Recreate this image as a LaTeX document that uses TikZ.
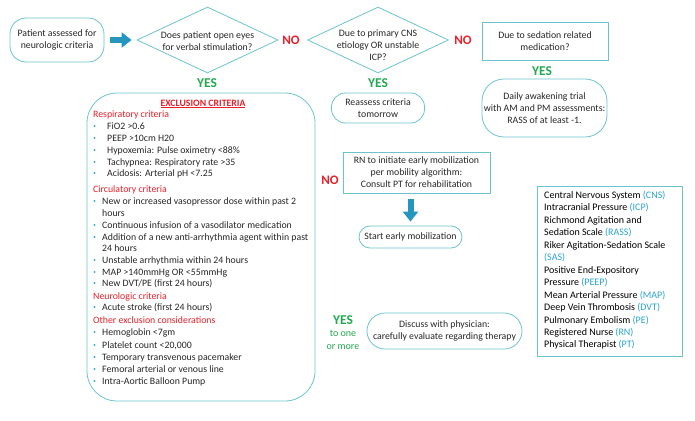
\documentclass[tikz,border=0pt]{standalone}
\usepackage{fontspec}
\setmainfont{Carlito}
\usetikzlibrary{shapes.geometric,arrows.meta}
\definecolor{bord}{HTML}{6CC3D0}
\definecolor{arr}{HTML}{2596BE}
\definecolor{nored}{HTML}{E8202A}
\definecolor{yesgreen}{HTML}{22A94F}
\definecolor{abbr}{HTML}{2AA5CE}
\definecolor{txt}{HTML}{262626}
\definecolor{bul}{HTML}{3AAED0}
\newcommand\ab[1]{\textcolor{abbr}{#1}}
\begin{document}
\begin{tikzpicture}[x=1pt,y=-1pt,
  font=\fontsize{9.8}{12}\selectfont,
  box/.style={draw=bord, line width=0.8pt, text=txt, align=center, inner sep=0},
  dia/.style={diamond, draw=bord, line width=0.8pt, inner sep=0, minimum width=141pt, minimum height=66pt},
  plain/.style={text=txt, align=center, inner sep=0},
  nolab/.style={text=nored, font=\bfseries\fontsize{13}{13}\selectfont, inner sep=0},
  yeslab/.style={text=yesgreen, font=\bfseries\fontsize{13.5}{13}\selectfont, inner sep=0},
  flow/.style={draw=arr, line width=6pt, -{Triangle[length=10pt,width=15pt]}},
  ln/.style={text=txt, anchor=base west, inner sep=0},
  hd/.style={text=nored, anchor=base west, inner sep=0},
  dot/.style={fill=bul}]
\useasboundingbox (0,0) rectangle (695,420);
% top row
\node[box, rounded corners=16pt, minimum width=94pt, minimum height=44pt] (start) at (57,40) {Patient assessed for\\neurologic criteria};
\node[dia] (d1) at (207.5,40) {};
\node[plain] (d1t) at (207.5,41) {Does patient open eyes\\for verbal stimulation?};
\node[nolab] (no1) at (291,40) {NO};
\node[dia] (d2) at (378,40) {};
\node[plain] (d2t) at (378,45) {Due to primary CNS\\etiology OR unstable\\ICP?};
\node[nolab] (no2) at (463,40) {NO};
\node[box, minimum width=126pt, minimum height=38pt] (sed) at (545,41) {Due to sedation related\\medication?};
\node[yeslab] (yes1) at (207,83) {YES};
\node[yeslab] (yes2) at (378,83) {YES};
\node[yeslab] (yes3) at (542,71) {YES};
\node[box, rounded corners=14pt, minimum width=93pt, minimum height=30pt] (reass) at (378,108) {Reassess criteria\\tomorrow};
\node[box, rounded corners=22pt, minimum width=125pt, minimum height=58pt] (daily) at (544.5,108) {Daily awakening trial\\with AM and PM assessments:\\RASS of at least -1.};
\draw[flow, shorten <=6pt, shorten >=5pt] (start) -- (d1);
% exclusion box
\node[box, rounded corners=30pt, minimum width=228pt, minimum height=308pt] (excl) at (201,247) {};
\node[text=nored, font=\bfseries\fontsize{9.8}{10}\selectfont, inner sep=0, anchor=base] (ext) at (203,106) {\underline{EXCLUSION CRITERIA}};
\node[hd] (h1) at (93,117) {Respiratory criteria};
\node[ln] (r1) at (107,129) {FiO2 >0.6};
\node[ln] (r2) at (107,141) {PEEP >10cm H20};
\node[ln] (r3) at (107,153) {Hypoxemia: Pulse oximetry <88\%};
\node[ln] (r4) at (107,165) {Tachypnea: Respiratory rate >35};
\node[ln] (r5) at (107,176) {Acidosis: Arterial pH <7.25};
\node[hd] (h2) at (93,192) {Circulatory criteria};
\node[ln] (c1) at (102,204) {New or increased vasopressor dose within past 2};
\node[ln] (c1b) at (102,216) {hours};
\node[ln] (c2) at (102,228) {Continuous infusion of a vasodilator medication};
\node[ln] (c3) at (102,240) {Addition of a new anti-arrhythmia agent within past};
\node[ln] (c3b) at (102,251) {24 hours};
\node[ln] (c4) at (102,263) {Unstable arrhythmia within 24 hours};
\node[ln] (c5) at (102,275) {MAP >140mmHg OR <55mmHg};
\node[ln] (c6) at (102,286) {New DVT/PE (first 24 hours)};
\node[hd] (h3) at (93,299) {Neurologic criteria};
\node[ln] (n1) at (102,310) {Acute stroke (first 24 hours)};
\node[hd] (h4) at (93,323) {Other exclusion considerations};
\node[ln] (o1) at (102,335) {Hemoglobin <7gm};
\node[ln] (o2) at (102,348) {Platelet count <20,000};
\node[ln] (o3) at (102,360) {Temporary transvenous pacemaker};
\node[ln] (o4) at (102,372) {Femoral arterial or venous line};
\node[ln] (o5) at (102,384) {Intra-Aortic Balloon Pump};
\foreach \yy in {126,138,150,162,173,201,225,237,260,272,283,307,332,345,357,369,381}
  \fill[dot] (94.5,\yy) circle (1.1pt);
% middle column
\node[nolab] (no3) at (330,180) {NO};
\node[box, minimum width=147pt, minimum height=41pt] (rn) at (416.5,172.5) {RN to initiate early mobilization\\per mobility algorithm:\\Consult PT for rehabilitation};
\node[box, rounded corners=11pt, minimum width=103pt, minimum height=22pt] (early) at (410.5,237) {Start early mobilization};
\draw[flow, shorten <=6pt, shorten >=4pt] (rn.south -| early.north) -- (early.north);
\node[yeslab] (yes4) at (343,320) {YES};
\node[text=yesgreen, align=center, inner sep=0, font=\fontsize{10}{13.5}\selectfont] (yes4b) at (343,340) {to one\\or more};
\node[box, rounded corners=18pt, minimum width=155pt, minimum height=36pt] (disc) at (444.5,331) {Discuss with physician:\\carefully evaluate regarding therapy};
% legend
\node[box, minimum width=145pt, minimum height=170pt] (leg) at (609.5,271) {};
\node[text=black, align=left, inner sep=0, anchor=north west, font=\fontsize{10}{12.45}\selectfont] (legt) at (544,191) {Central Nervous System \ab{(CNS)}\\
Intracranial Pressure \ab{(ICP)}\\
Richmond Agitation and\\
Sedation Scale \ab{(RASS)}\\
Riker Agitation-Sedation Scale\\
\ab{(SAS)}\\
Positive End-Expository\\
Pressure \ab{(PEEP)}\\
Mean Arterial Pressure \ab{(MAP)}\\
Deep Vein Thrombosis \ab{(DVT)}\\
Pulmonary Embolism \ab{(PE)}\\
Registered Nurse \ab{(RN)}\\
Physical Therapist \ab{(PT)}};
\end{tikzpicture}
\end{document}
